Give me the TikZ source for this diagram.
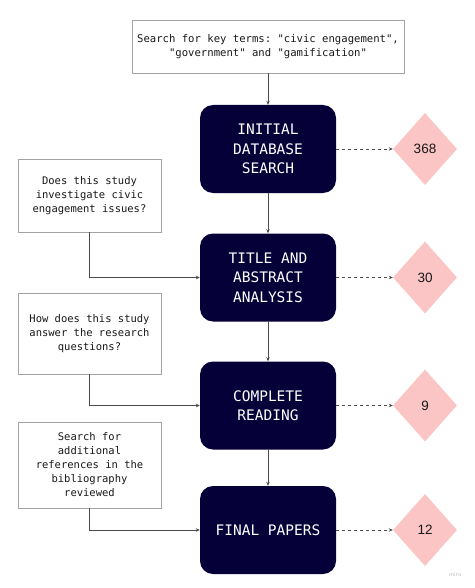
\documentclass[tikz,border=0pt]{standalone}
\usepackage{fontspec}
\setmonofont{DejaVu Sans Mono}
\newfontfamily\numfont{Liberation Sans}
\usetikzlibrary{shapes.geometric}
\usetikzlibrary{arrows.meta}
\definecolor{navy}{HTML}{050038}
\definecolor{rose}{HTML}{FBC5C5}
\definecolor{rim}{HTML}{A3A3A3}
\definecolor{wire}{HTML}{4A4A4A}
\begin{document}
\begin{tikzpicture}[x=1pt,y=-1pt,
        notebox/.style={draw=rim,line width=0.8pt,fill=white,inner sep=0pt,align=center,
            font=\ttfamily\fontsize{10.5}{14}\selectfont,text=black!90},
        stagebox/.style={fill=navy,rounded corners=13pt,minimum width=136pt,minimum height=88pt,
            inner sep=0pt,align=center,text=white,font=\ttfamily\fontsize{14.5}{19.5}\selectfont},
        countbox/.style={diamond,fill=rose,minimum width=64pt,minimum height=72pt,inner sep=0pt,
            font=\numfont\fontsize{13.5}{16}\selectfont,text=black!90},
        link/.style={draw=wire,line width=0.8pt,-{Stealth[length=4pt,width=3.5pt]}}]
                \useasboundingbox[fill=white] (0,0) rectangle (474,588);

                \node[notebox,minimum width=272pt,minimum height=53pt,
                    font=\ttfamily\fontsize{10.6}{14}\selectfont] (K) at (268,46.5)
                    {Search for key terms: "civic engagement",\\"government" and "gamification"};

                \foreach \a/\y/\t/\c in{1/149/{INITIAL\\DATABASE\\SEARCH}/368,
                                        2/277.5/{TITLE AND\\ABSTRACT\\ANALYSIS}/30,
                                        3/405.5/{COMPLETE\\READING}/9,
                                        4/530/{FINAL PAPERS}/12}
                {
                    \node[stagebox] (S\a) at (268,\y) {\t};
                    \node[countbox] (N\a) at (425,\y) {\c};

                    \draw[link,dash pattern=on 3pt off 3pt] (S\a) -- (N\a);
                }

                \node[notebox,minimum width=143pt,minimum height=73pt] (Q1) at (89.5,195.5)
                    {Does this study\\investigate civic\\engagement issues?};
                \node[notebox,minimum width=143pt,minimum height=81pt] (Q2) at (89.5,333.5)
                    {How does this study\\answer the research\\questions?};
                \node[notebox,minimum width=143pt,minimum height=86pt] (Q3) at (89.5,465)
                    {Search for\\additional\\references in the\\bibliography\\reviewed};

                \draw[link] (K) -- (S1);
                \draw[link] (S1) -- (S2);
                \draw[link] (S2) -- (S3);
                \draw[link] (S3) -- (S4);

                \draw[link] (Q1) |- (S2);
                \draw[link] (Q2) |- (S3);
                \draw[link] (Q3) |- (S4);

                \node[text=black!25,font=\sffamily\fontsize{6}{7}\selectfont] (M) at (455,575) {miro};
            \end{tikzpicture}
\end{document}
